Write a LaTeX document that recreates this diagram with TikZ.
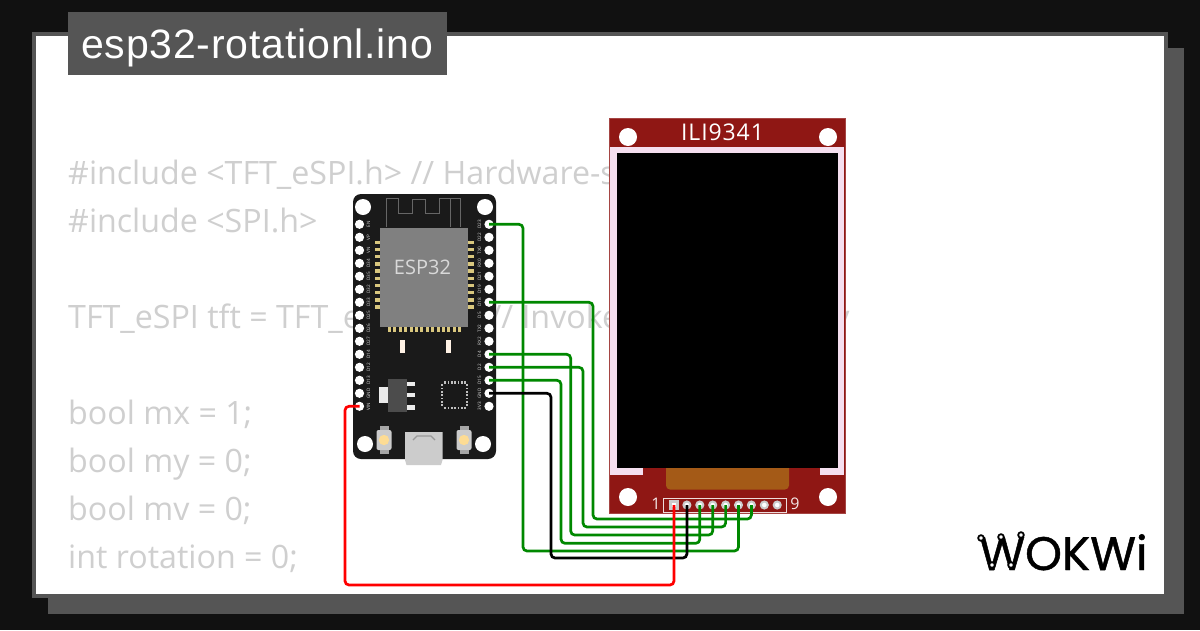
\documentclass[tikz,border=0pt]{standalone}
\usepackage{fontspec}
\setmainfont{Open Sans}
\newfontfamily\titlefont[LetterSpace=2]{Liberation Sans}
\newfontfamily\logofont[FakeBold=1]{Poppins}
\newfontfamily\tftfont[LetterSpace=4]{Open Sans}
\definecolor{pagedark}{HTML}{111111}
\definecolor{framegray}{HTML}{555555}
\definecolor{codegray}{HTML}{CFCFCF}
\definecolor{boardblack}{HTML}{1A1A1A}
\definecolor{tftred}{HTML}{8F1714}
\definecolor{tftpink}{HTML}{F5DFEF}
\definecolor{ribbon}{HTML}{A45A17}
\definecolor{padgold}{HTML}{D9C77E}
\definecolor{wiregreen}{HTML}{008800}
\definecolor{btnyellow}{HTML}{FDDC94}
\tikzset{
  codeline/.style={anchor=base west,inner sep=0pt,text=codegray,font=\fontsize{32.2}{34}\selectfont},
  pinhole/.style={circle,fill=white,inner sep=0pt,minimum size=9.2pt},
  pinlabel/.style={rotate=90,inner sep=0pt,text=white!85!black,font=\fontsize{4.6}{5}\selectfont},
  tftpin/.style={circle,draw=black!20,fill=white,line width=2pt,inner sep=0pt,minimum size=7pt},
  tftsquare/.style={rectangle,draw=black!20,fill=white,line width=2.6pt,inner sep=0pt,minimum size=6.6pt},
  wire/.style={line width=2.7pt,rounded corners=4pt},
  greenwire/.style={wire,draw=wiregreen},
  blackwire/.style={wire,draw=black},
  redwire/.style={wire,draw=red}
}

\begin{document}
\begin{tikzpicture}[x=1pt,y=-1pt]

  \useasboundingbox (0,0) rectangle (1200,630);
  \fill[pagedark] (0,0) rectangle (1200,630);
  \fill[framegray] (48,48) rectangle (1184,614);
  \fill[framegray] (32,32) rectangle (1168,598);
  \fill[white] (36,36) rectangle (1164,594);

  \node[codeline] (code1) at (68,184) {\#include <TFT\_eSPI.h> // Hardware-s};
  \node[codeline] (code2) at (68,232) {\#include <SPI.h>};
  \node[codeline] (code3) at (68,328) {TFT\_eSPI tft = TFT\_eSPI();\hspace{55pt}// Invoke custom\hspace{14pt}library};
  \node[codeline] (code4) at (68,424) {bool mx = 1;};
  \node[codeline] (code5) at (68,472) {bool my = 0;};
  \node[codeline] (code6) at (68,520) {bool mv = 0;};
  \node[codeline] (code7) at (68,568) {int rotation = 0;};

  \fill[framegray] (68,12) rectangle (447,75);
  \node[anchor=base west,inner sep=0pt,text=white,font=\titlefont\fontsize{41}{44}\selectfont] (title) at (81,58) {esp32-rotationl.ino};

  \draw[tftred!80!white,line width=0.6pt,fill=tftred] (609.5,118.5) rectangle (845,513);
  \fill[tftpink] (610,147) rectangle (844,475);
  \fill[tftred] (643,467) rectangle (819.5,476);
  \fill[ribbon,rounded corners=4pt] (666,460) rectangle (789,489.5);
  \fill[black] (617,152.5) rectangle (837.5,467.5);
  \foreach \holex/\holey in {628/137,828/137,628/497,828/497}
    \fill[white] (\holex,\holey) circle[radius=9pt];
  \node[text=white,inner sep=0pt,font=\tftfont\fontsize{23}{25}\selectfont] (tfttitle) at (722.5,132) {ILI9341};
  \draw[white!85!tftred,line width=1pt] (663.5,498) rectangle (786.5,512);
  \node[text=white!90!tftred,inner sep=0pt,font=\fontsize{16}{18}\selectfont] (one) at (656,504) {1};
  \node[text=white!90!tftred,inner sep=0pt,font=\fontsize{16}{18}\selectfont] (nine) at (795,504) {9};
  \node[tftsquare] (tft1) at (674,505) {};
  \foreach \i in {2,...,9}
    \node[tftpin] (tft\i) at ({674+12.9*(\i-1)},505) {};

  \fill[boardblack,rounded corners=8pt] (353,194) rectangle (496,459);
  \foreach \holex/\holey in {363/207,485/207,365/444,483/444}
    \fill[white] (\holex,\holey) circle[radius=8pt];
  \draw[black!60,line width=0.7pt] (386,227) -- (386,198) -- (398,198) -- (398,213) -- (412,213) -- (412,199)
    -- (425,199) -- (425,213) -- (439,213) -- (439,198) -- (460,198) -- (460,227);
  \draw[black!60,line width=0.7pt] (450,198) -- (450,227);
  \foreach \i in {0,...,9} {
    \fill[padgold] (374.5,{240.5+7.2*\i}) rectangle (380,{244+7.2*\i});
    \fill[padgold] (468,{240.5+7.2*\i}) rectangle (473.5,{244+7.2*\i});
  }
  \foreach \i in {0,...,13}
    \fill[padgold] ({388+5.4*\i},326) rectangle ({391+5.4*\i},331.5);
  \fill[black!50] (380,227.5) rectangle (468,326.5);
  \node[text=white!85!black,inner sep=0pt,font=\fontsize{20}{22}\selectfont] (esplabel) at (422.5,267) {ESP32};

  \foreach \pinname [count=\i from 0] in {EN,VP,VN,D34,D35,D32,D33,D25,D26,D27,D14,D12,D13,GND,VIN} {
    \node[pinhole] (l-\pinname) at (359.5,{224.3+13*\i}) {};
    \node[pinlabel] (lab-l-\pinname) at (368.5,{224.3+13*\i}) {\pinname};
  }
  \foreach \pinname [count=\i from 0] in {D23,D22,TX0,RX0,D21,D19,D18,D5,TX2,RX2,D4,D2,D15,GND,3V3} {
    \node[pinhole] (r-\pinname) at (489,{224.3+13*\i}) {};
    \node[pinlabel] (lab-r-\pinname) at (479.5,{224.3+13*\i}) {\pinname};
  }

  \fill[white!90!orange] (400.3,340) rectangle (405,353);
  \fill[white!90!orange] (446.3,340) rectangle (451,353);

  \fill[black!8] (379,387.3) rectangle (388.5,402.7);
  \foreach \legy in {381.7,392.7,405}
    \fill[black!8] (406,\legy) rectangle (415.3,{\legy+4.6});
  \fill[black!70] (388.3,379.3) rectangle (406.7,412.3);

  \foreach \i in {0,...,6} {
    \fill[white!75!black] ({444.4+3.3*\i},381.2) rectangle ({446+3.3*\i},383.5);
    \fill[white!75!black] ({444.4+3.3*\i},406.5) rectangle ({446+3.3*\i},408.8);
    \fill[white!75!black] (440.7,{384.4+3.3*\i}) rectangle (443,{386+3.3*\i});
    \fill[white!75!black] (465.5,{384.4+3.3*\i}) rectangle (467.8,{386+3.3*\i});
  }
  \fill[black!90] (443.5,383.5) rectangle (465,406.5);

  \foreach \btnx in {384,464} {
    \fill[black!20,rounded corners=2pt] ({\btnx-7.5},430) rectangle ({\btnx+7.5},450);
    \fill[black!35] ({\btnx-4.5},426) rectangle ({\btnx+4.5},430);
    \fill[black!35] ({\btnx-4.5},450) rectangle ({\btnx+4.5},453.5);
    \fill[btnyellow] (\btnx,440) circle[radius=5.2pt];
  }

  \fill[black!20] (405,432) -- (442.5,432) -- (442.5,460) -- (441,465) -- (406.5,465) -- (405,460) -- cycle;
  \draw[black!40,line width=1.2pt] (413,440) -- (417,436) -- (431,436) -- (435,440);

  \draw[greenwire] (r-D23.center) -| (523,551) -| (tft6.center);
  \draw[greenwire] (r-D18.center) -| (593,519) -| (tft7.center);
  \draw[greenwire] (r-D4.center) -| (570.7,535) -| (tft4.center);
  \draw[greenwire] (r-D2.center) -| (583,527) -| (tft5.center);
  \draw[greenwire] (r-D15.center) -| (561,543.3) -| (tft3.center);
  \draw[blackwire] (r-GND.center) -| (551,558) -| (tft2.center);
  \draw[redwire] (l-VIN.center) -| (345,585) -| (tft1.center);

  \node[anchor=base west,inner sep=0pt,text=black,font=\logofont\fontsize{47}{50}\selectfont] (logo) at (979,570) {WOKWi};
  \foreach \dotx/\doty [count=\i] in {981/538,1001/537,1021/535,992/565,1011/565}
    \draw[black,line width=1.8pt,fill=white] (\dotx,\doty) circle[radius=2.8pt];

\end{tikzpicture}
\end{document}
